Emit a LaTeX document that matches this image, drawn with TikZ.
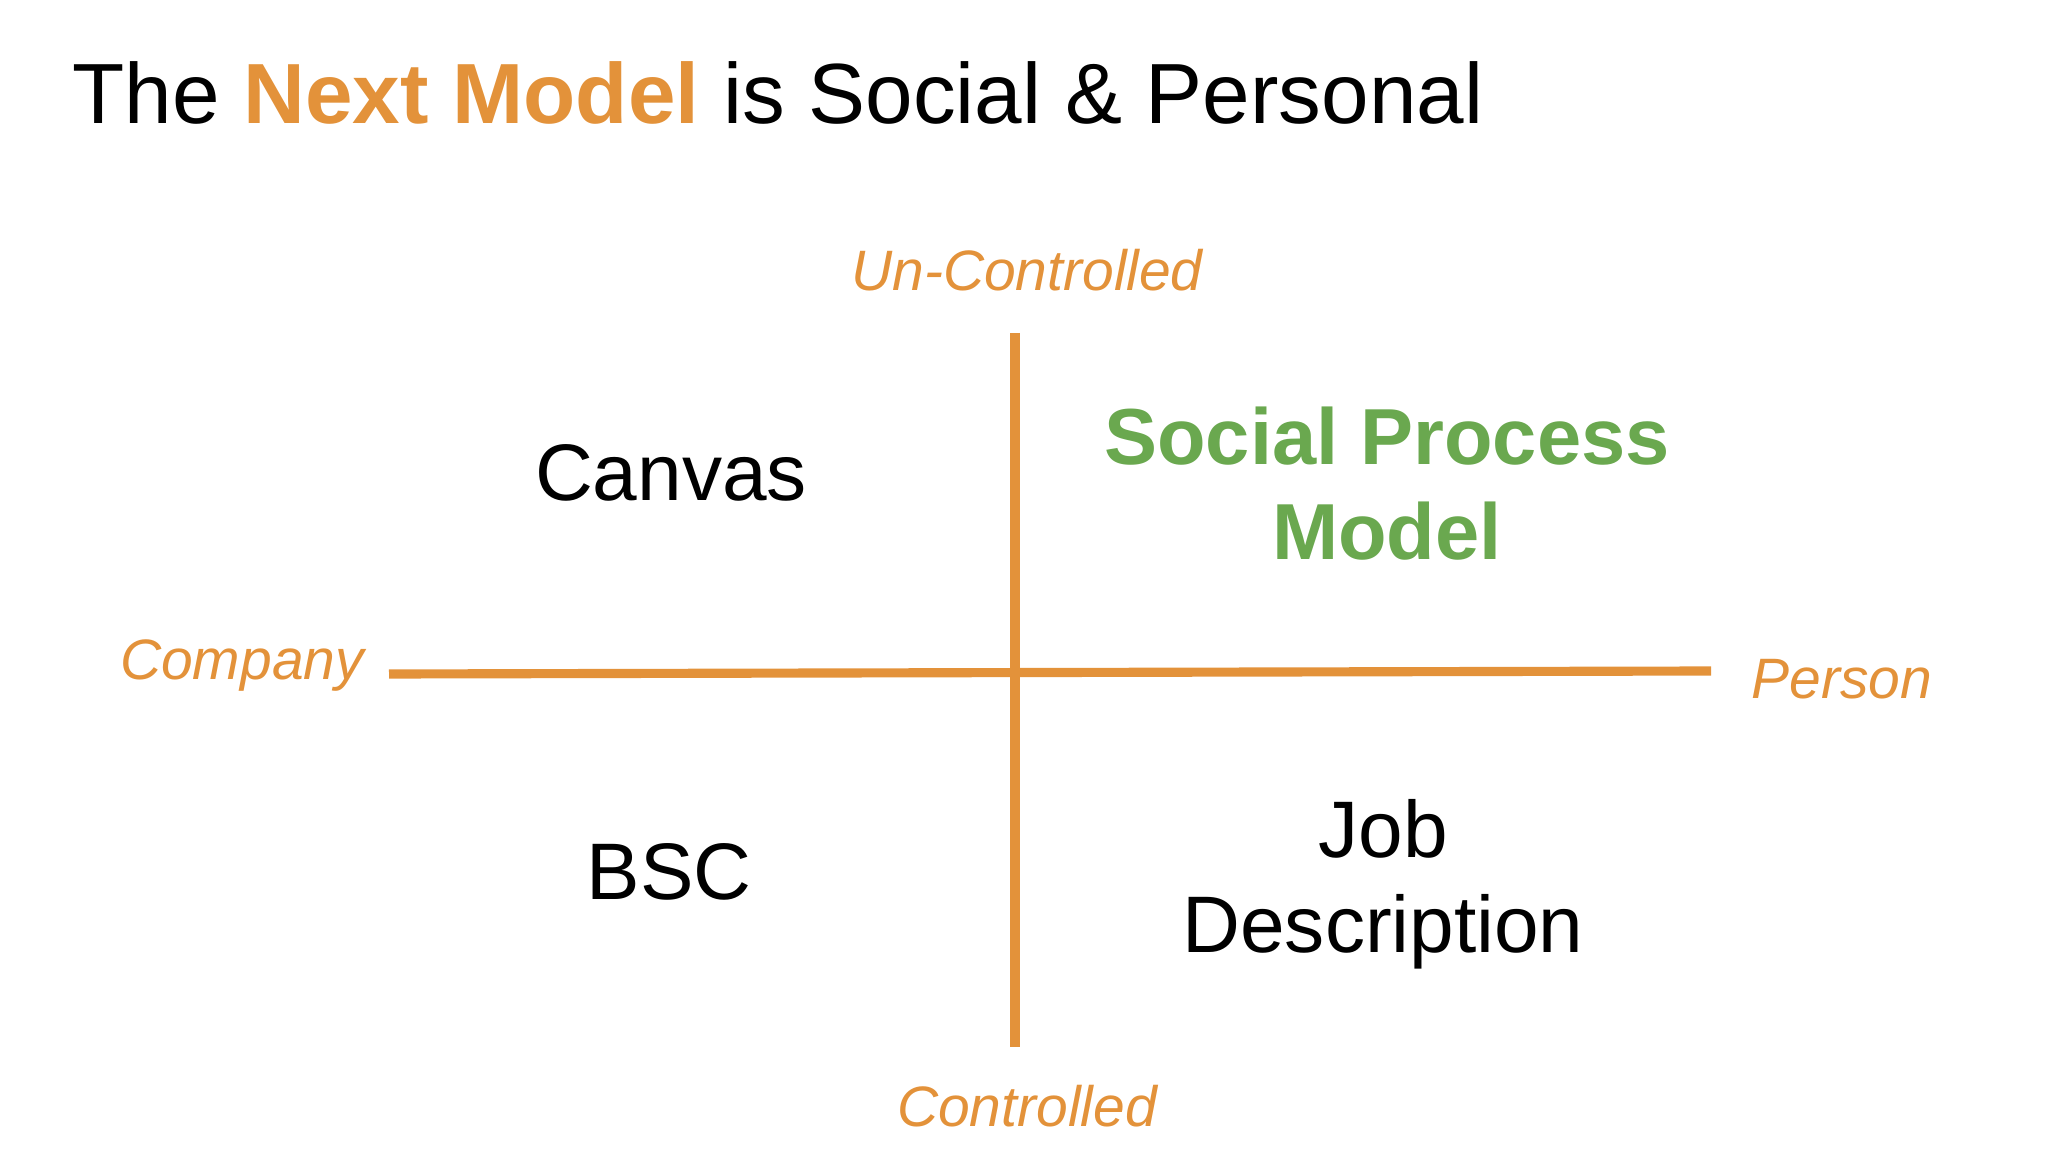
\documentclass[tikz,border=0pt]{standalone}
\usepackage{fontspec}
\setmainfont{Liberation Sans}
\definecolor{org}{HTML}{E3923A}
\definecolor{grn}{HTML}{6AA84F}
\begin{document}
\begin{tikzpicture}[x=0.01cm,y=-0.01cm,
  axis/.style={draw=org,line width=2.6pt},
  axlbl/.style={text=org,font=\fontsize{16.2}{19}\selectfont\itshape},
  quad/.style={font=\fontsize{22.8}{27}\selectfont,align=center},
  hi/.style={quad,text=grn,font=\fontsize{22.6}{27}\selectfont\bfseries}]
\useasboundingbox (0,0) rectangle (2048,1152);
\node[anchor=base west,inner sep=0,font=\fontsize{24.3}{29}\selectfont] (title) at (72,124)
  {The \textcolor{org}{\textbf{Next Model}} is Social \& Personal};
\coordinate (top) at (1015,333);
\coordinate (bot) at (1015,1047);
\coordinate (lft) at (389,674);
\coordinate (rgt) at (1711,671);
\draw[axis] (top) -- (bot);
\draw[axis] (lft) -- (rgt);
\node[axlbl] (unc) at (1027,270) {Un-Controlled};
\node[axlbl] (con) at (1027,1106) {Controlled};
\node[axlbl] (comp) at (242,666) {Company};
\node[axlbl] (pers) at (1842,679) {Person};
\node[quad] (canvas) at (671,473) {Canvas};
\node[quad] (bsc) at (669,872) {BSC};
\node[hi] (spm) at (1387,484) {Social Process\\Model};
\node[quad] (job) at (1383,884) {Job\\Description};
\end{tikzpicture}
\end{document}
